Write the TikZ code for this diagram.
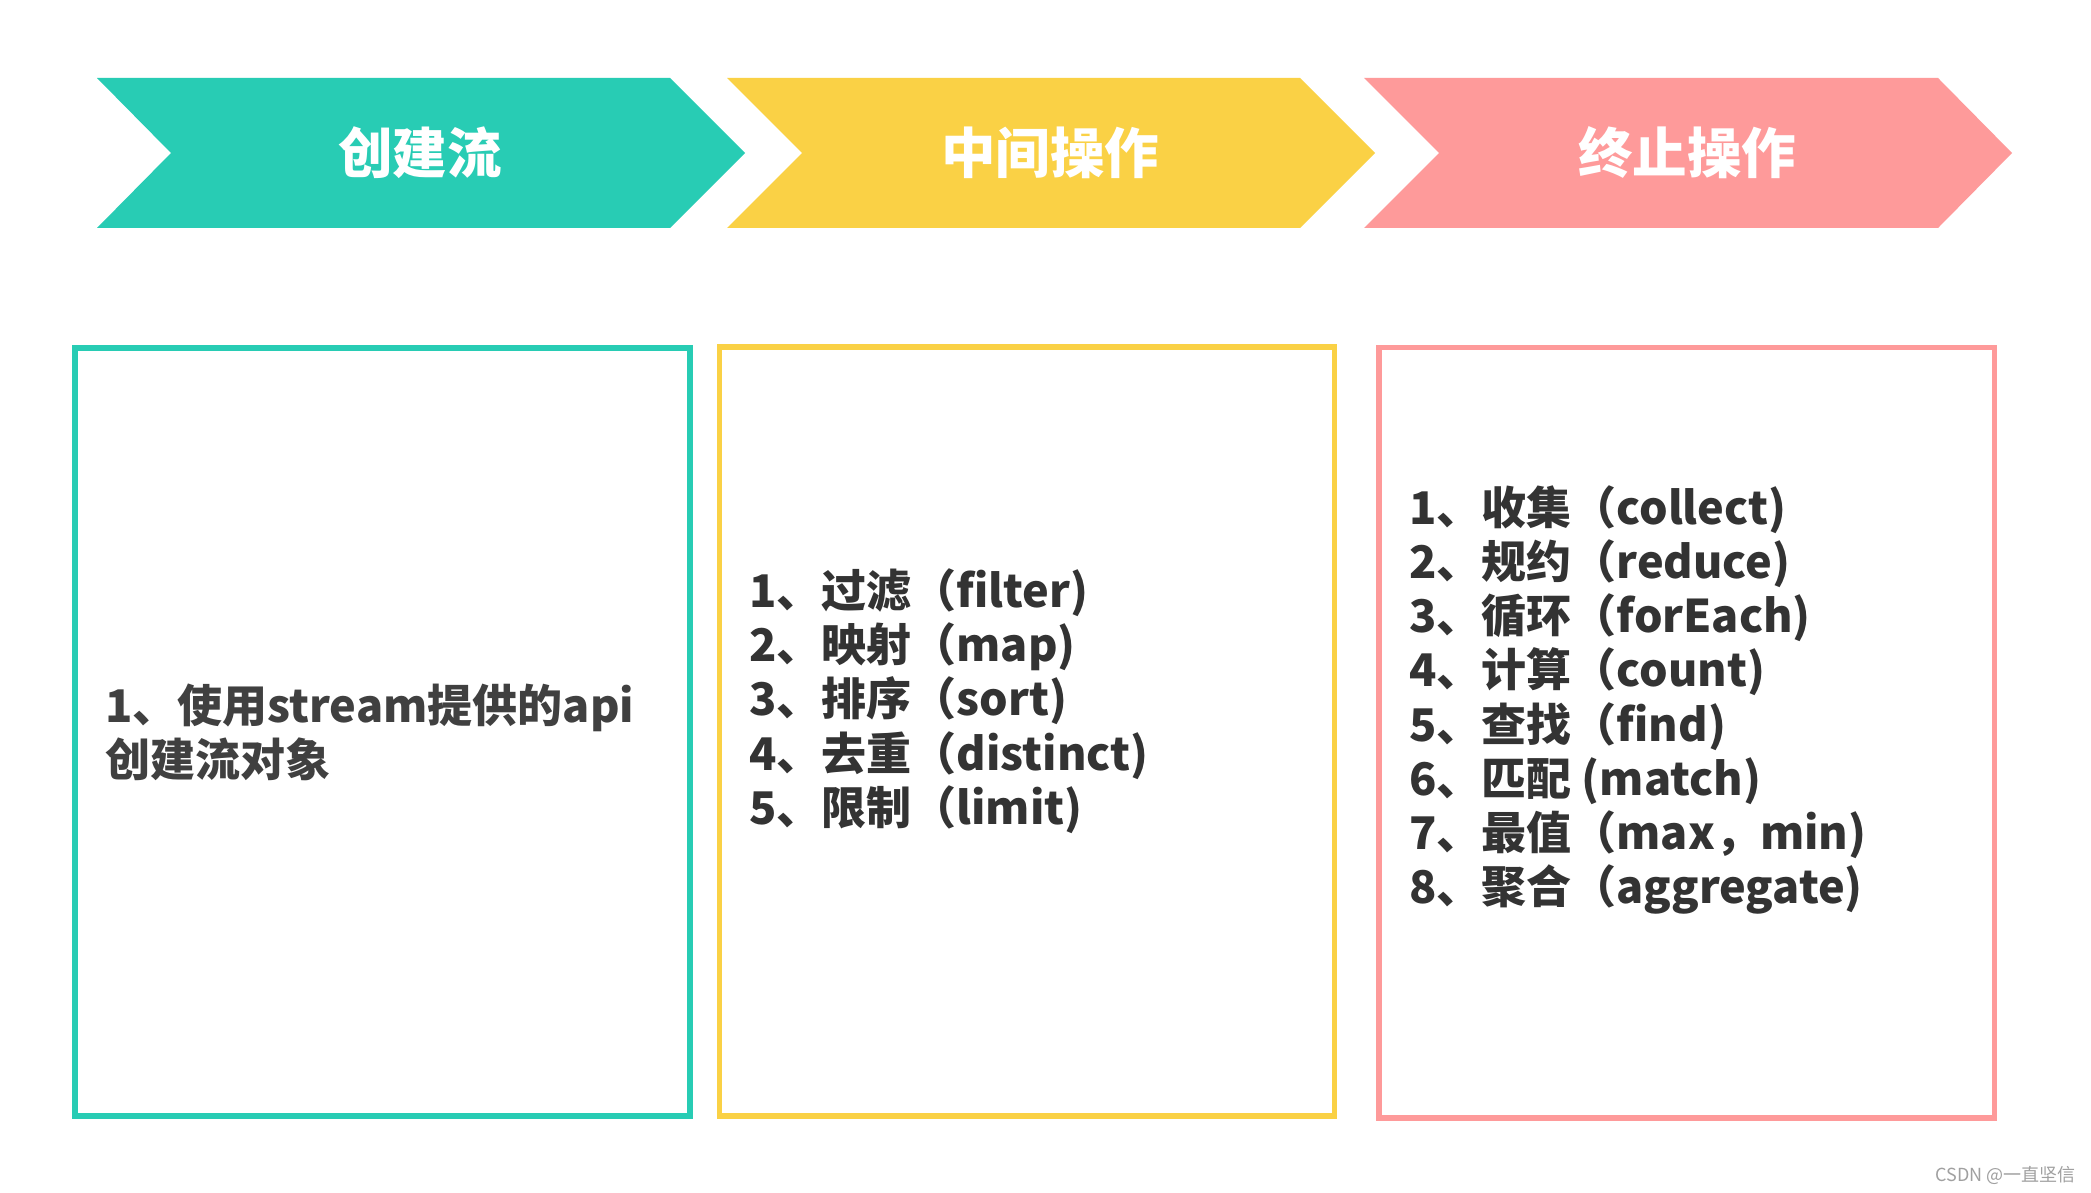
\documentclass[tikz,border=0pt]{standalone}
\usepackage{fontspec}
\setmainfont{Noto Sans CJK SC}
\definecolor{cteal}{HTML}{28CCB4}
\definecolor{cyellow}{HTML}{FAD145}
\definecolor{cpink}{HTML}{FE9A9A}
\definecolor{ctext}{HTML}{333333}
\definecolor{ctextA}{HTML}{404040}
\definecolor{cmark}{HTML}{A0A0A0}
\begin{document}
\begin{tikzpicture}[x=1pt,y=-1pt,
  headtext/.style={text=white,font=\fontsize{54.5}{60}\selectfont\bfseries,inner sep=0pt},
  listbox/.style={line width=5.5pt},
  listtext/.style={anchor=west,align=left,inner sep=0pt,text=ctext,font=\fontsize{45}{54.2}\selectfont\bfseries}]
\useasboundingbox (0,0) rectangle (2091,1193);
\fill[white] (0,0) rectangle (2091,1193);
% chevrons
\fill[cteal] (97,78) -- (670,78) -- (745,153) -- (670,228) -- (97,228) -- (171,153) -- cycle;
\fill[cyellow] (727,78) -- (1300,78) -- (1375,153) -- (1300,228) -- (727,228) -- (802,153) -- cycle;
\fill[cpink] (1364,78) -- (1938,78) -- (2012,153) -- (1938,228) -- (1364,228) -- (1439,153) -- cycle;
\node[headtext] (h1) at (420,153) {创建流};
\node[headtext] (h2) at (1050,153) {中间操作};
\node[headtext] (h3) at (1687,153) {终止操作};
% boxes
\draw[listbox,cteal] (75,348) rectangle (690,1116);
\draw[listbox,cyellow] (719.5,347) rectangle (1334.5,1116);
\draw[listbox,cpink] (1379,347.5) rectangle (1994.5,1118);
% texts
\node[listtext,text=ctextA] (t1) at (105,732) {1、使用stream提供的api\\创建流对象};
\node[listtext] (t2) at (749,701) {1、过滤（filter)\\2、映射（map)\\3、排序（sort)\\4、去重（distinct)\\5、限制（limit)};
\node[listtext] (t3) at (1409,700) {1、收集（collect)\\2、规约（reduce)\\3、循环（forEach)\\4、计算（count)\\5、查找（find)\\6、匹配 (match)\\7、最值（max，min)\\8、聚合（aggregate)};
\node[anchor=east,inner sep=0pt,text=cmark,font=\fontsize{18}{20}\selectfont] (wm) at (2076,1175) {CSDN @一直坚信};
\end{tikzpicture}
\end{document}
